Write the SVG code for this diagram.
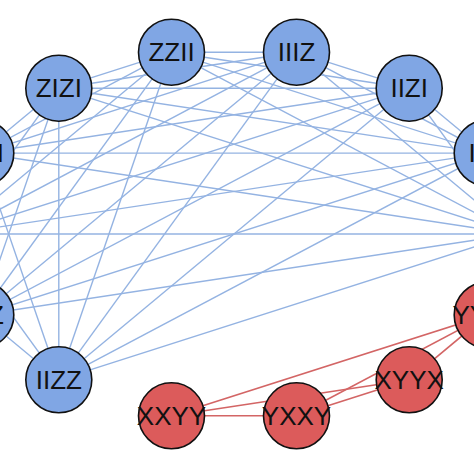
<svg xmlns="http://www.w3.org/2000/svg" width="474" height="474" viewBox="0 0 474 474">
<style>
.e{stroke:#94b3e2;stroke-width:1.4;fill:none}
.r{stroke:#d36565;stroke-width:1.6;fill:none}
.nb{fill:#80a6e4;stroke:#111;stroke-width:1.6}
.nr{fill:#dc5b5b;stroke:#111;stroke-width:1.6}
text{font-family:"Liberation Sans",Arial,sans-serif;font-size:26px;text-anchor:middle;fill:#111}
</style>
<rect width="474" height="474" fill="#fff"/>
<g id="connectors">
<g id="blue-edges">
<line class="e" x1="515" y1="234" x2="487.2" y2="153.1"/>
<line class="e" x1="515" y1="234" x2="409.2" y2="88.2"/>
<line class="e" x1="515" y1="234" x2="296.5" y2="52.2"/>
<line class="e" x1="515" y1="234" x2="171.5" y2="52.2"/>
<line class="e" x1="515" y1="234" x2="58.8" y2="88.2"/>
<line class="e" x1="515" y1="234" x2="-19.2" y2="153.1"/>
<line class="e" x1="515" y1="234" x2="-47" y2="234"/>
<line class="e" x1="515" y1="234" x2="-19.2" y2="314.9"/>
<line class="e" x1="515" y1="234" x2="58.8" y2="379.8"/>
<line class="e" x1="487.2" y1="153.1" x2="409.2" y2="88.2"/>
<line class="e" x1="487.2" y1="153.1" x2="296.5" y2="52.2"/>
<line class="e" x1="487.2" y1="153.1" x2="171.5" y2="52.2"/>
<line class="e" x1="487.2" y1="153.1" x2="58.8" y2="88.2"/>
<line class="e" x1="487.2" y1="153.1" x2="-19.2" y2="153.1"/>
<line class="e" x1="487.2" y1="153.1" x2="-47" y2="234"/>
<line class="e" x1="487.2" y1="153.1" x2="-19.2" y2="314.9"/>
<line class="e" x1="487.2" y1="153.1" x2="58.8" y2="379.8"/>
<line class="e" x1="409.2" y1="88.2" x2="296.5" y2="52.2"/>
<line class="e" x1="409.2" y1="88.2" x2="171.5" y2="52.2"/>
<line class="e" x1="409.2" y1="88.2" x2="58.8" y2="88.2"/>
<line class="e" x1="409.2" y1="88.2" x2="-19.2" y2="153.1"/>
<line class="e" x1="409.2" y1="88.2" x2="-47" y2="234"/>
<line class="e" x1="409.2" y1="88.2" x2="-19.2" y2="314.9"/>
<line class="e" x1="409.2" y1="88.2" x2="58.8" y2="379.8"/>
<line class="e" x1="296.5" y1="52.2" x2="171.5" y2="52.2"/>
<line class="e" x1="296.5" y1="52.2" x2="58.8" y2="88.2"/>
<line class="e" x1="296.5" y1="52.2" x2="-19.2" y2="153.1"/>
<line class="e" x1="296.5" y1="52.2" x2="-47" y2="234"/>
<line class="e" x1="296.5" y1="52.2" x2="-19.2" y2="314.9"/>
<line class="e" x1="296.5" y1="52.2" x2="58.8" y2="379.8"/>
<line class="e" x1="171.5" y1="52.2" x2="58.8" y2="88.2"/>
<line class="e" x1="171.5" y1="52.2" x2="-19.2" y2="153.1"/>
<line class="e" x1="171.5" y1="52.2" x2="-47" y2="234"/>
<line class="e" x1="171.5" y1="52.2" x2="-19.2" y2="314.9"/>
<line class="e" x1="171.5" y1="52.2" x2="58.8" y2="379.8"/>
<line class="e" x1="58.8" y1="88.2" x2="-19.2" y2="153.1"/>
<line class="e" x1="58.8" y1="88.2" x2="-47" y2="234"/>
<line class="e" x1="58.8" y1="88.2" x2="-19.2" y2="314.9"/>
<line class="e" x1="58.8" y1="88.2" x2="58.8" y2="379.8"/>
<line class="e" x1="-19.2" y1="153.1" x2="-47" y2="234"/>
<line class="e" x1="-19.2" y1="153.1" x2="-19.2" y2="314.9"/>
<line class="e" x1="-19.2" y1="153.1" x2="58.8" y2="379.8"/>
<line class="e" x1="-47" y1="234" x2="-19.2" y2="314.9"/>
<line class="e" x1="-47" y1="234" x2="58.8" y2="379.8"/>
<line class="e" x1="-19.2" y1="314.9" x2="58.8" y2="379.8"/>
</g>
<g id="red-edges">
<line class="r" x1="171.5" y1="415.8" x2="296.5" y2="415.8"/>
<line class="r" x1="171.5" y1="415.8" x2="409.2" y2="379.8"/>
<line class="r" x1="171.5" y1="415.8" x2="487.2" y2="314.9"/>
<line class="r" x1="296.5" y1="415.8" x2="409.2" y2="379.8"/>
<line class="r" x1="296.5" y1="415.8" x2="487.2" y2="314.9"/>
<line class="r" x1="409.2" y1="379.8" x2="487.2" y2="314.9"/>
</g>
</g>
<g id="IZII"><circle class="nb" cx="487.2" cy="153.1" r="33"/><text x="487.2" y="162.1">IZII</text></g>
<g id="IIZI"><circle class="nb" cx="409.2" cy="88.2" r="33"/><text x="409.2" y="97.2">IIZI</text></g>
<g id="IIIZ"><circle class="nb" cx="296.5" cy="52.2" r="33"/><text x="296.5" y="61.2">IIIZ</text></g>
<g id="ZZII"><circle class="nb" cx="171.5" cy="52.2" r="33"/><text x="171.5" y="61.2">ZZII</text></g>
<g id="ZIZI"><circle class="nb" cx="58.8" cy="88.2" r="33"/><text x="58.8" y="97.2">ZIZI</text></g>
<g id="IZZI"><circle class="nb" cx="-19.2" cy="153.1" r="33"/><text x="-19.2" y="162.1">IZZI</text></g>
<g id="IZIZ"><circle class="nb" cx="-19.2" cy="314.9" r="33"/><text x="-19.2" y="323.9">IZIZ</text></g>
<g id="IIZZ"><circle class="nb" cx="58.8" cy="379.8" r="33"/><text x="58.8" y="388.8">IIZZ</text></g>
<g id="XXYY"><circle class="nr" cx="171.5" cy="415.8" r="33"/><text x="171.5" y="424.8">XXYY</text></g>
<g id="YXXY"><circle class="nr" cx="296.5" cy="415.8" r="33"/><text x="296.5" y="424.8">YXXY</text></g>
<g id="XYYX"><circle class="nr" cx="409.2" cy="379.8" r="33"/><text x="409.2" y="388.8">XYYX</text></g>
<g id="YYXX"><circle class="nr" cx="487.2" cy="314.9" r="33"/><text x="487.2" y="323.9">YYXX</text></g>
</svg>
